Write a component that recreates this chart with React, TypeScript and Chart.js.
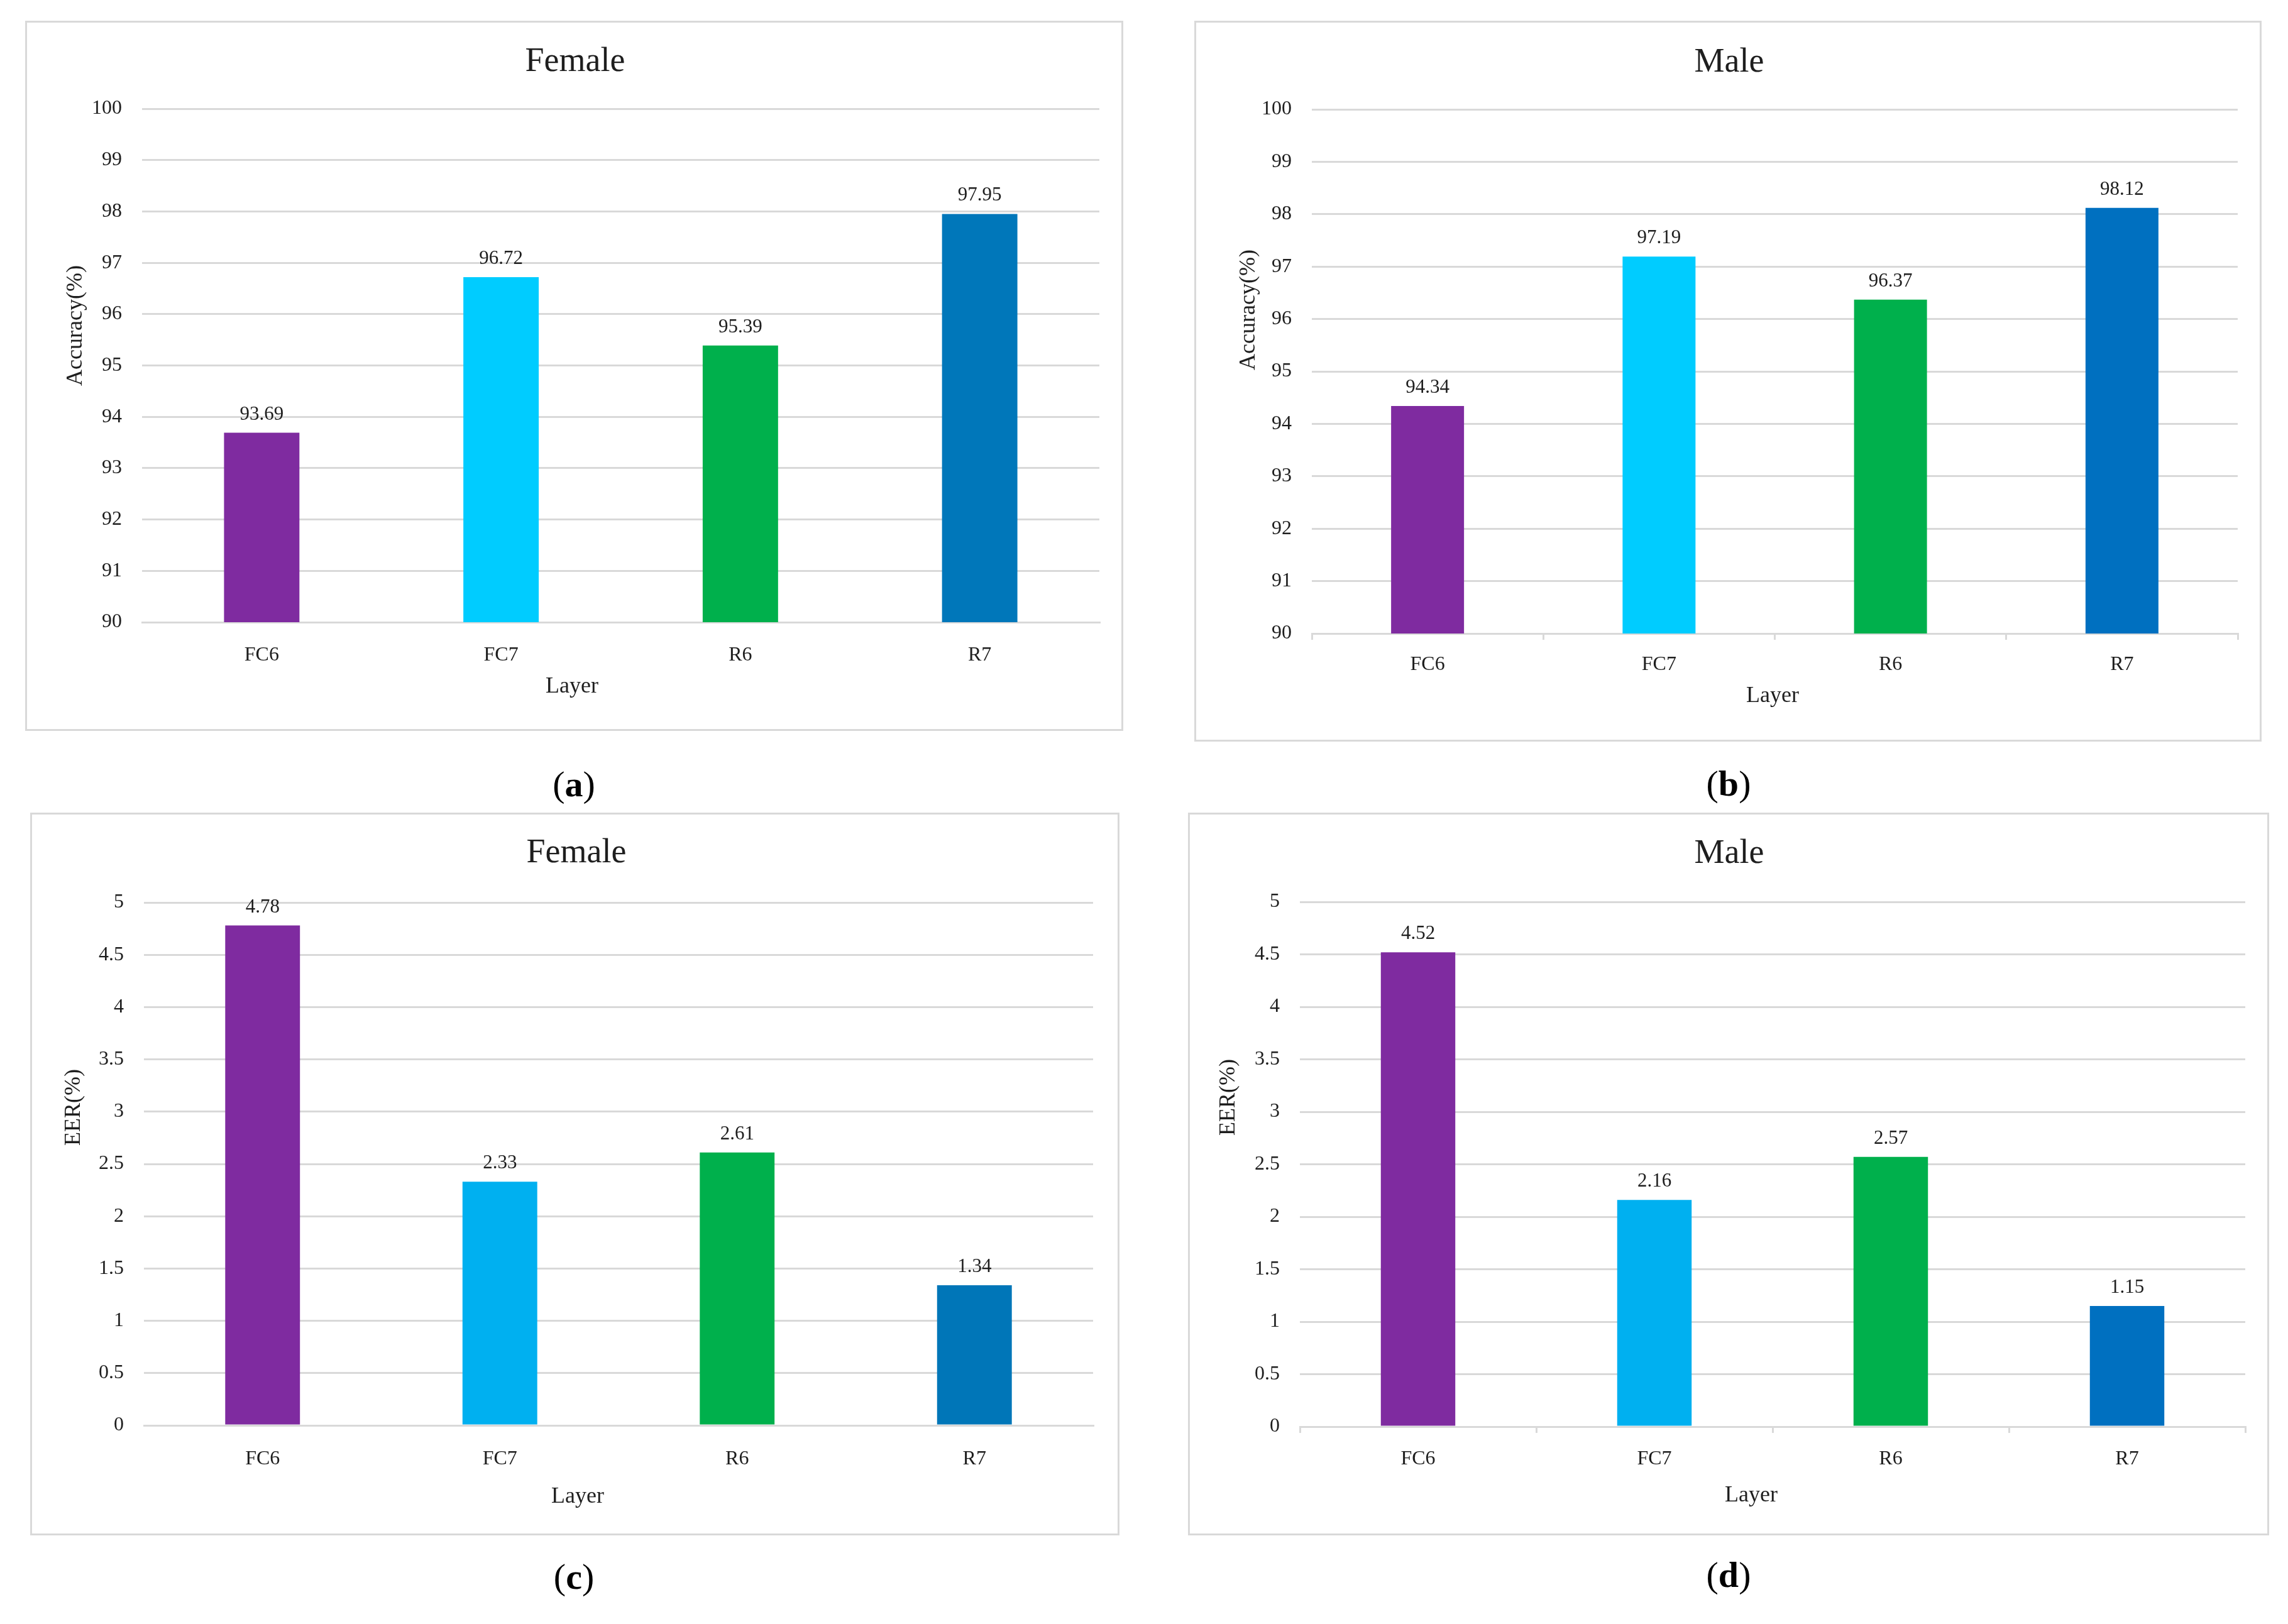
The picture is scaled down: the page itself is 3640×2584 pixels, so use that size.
import React, { useEffect, useRef } from 'react';
import { Chart, registerables } from 'chart.js';

Chart.register(...registerables);

// ---------------- DATA ----------------
const layers = ['FC6', 'FC7', 'R6', 'R7'];
const femaleAccuracy = [93.69, 96.72, 95.39, 97.95];
const maleAccuracy = [94.34, 97.19, 96.37, 98.12];
const femaleEER = [4.78, 2.33, 2.61, 1.34];
const maleEER = [4.52, 2.16, 2.57, 1.15];
const accuracyTicks = [90, 91, 92, 93, 94, 95, 96, 97, 98, 99, 100];
const eerTicks = [0, 0.5, 1, 1.5, 2, 2.5, 3, 3.5, 4, 4.5, 5];

const accColorsLeft = ['#7F2BA0', '#00CCFF', '#00B04C', '#0077BA'];
const accColorsRight = ['#7F2BA0', '#00CCFF', '#00B04C', '#0070C0'];
const eerColorsLeft = ['#7F2BA0', '#00B0F0', '#00B04C', '#0076B8'];
const eerColorsRight = ['#7F2BA0', '#00B0F0', '#00B04C', '#0070C0'];

// ---------------- STYLE ----------------
const FONT = '"Liberation Serif", "Times New Roman", serif';
const TEXT = '#1E1E1E';
const GRID = '#D9D9D9';
const BORDER = 3;

type Box = { x: number; y: number; w: number; h: number };
type Area = { l: number; r: number; t: number; b: number };
type PanelSpec = {
  title: string;
  yTitle: string;
  values: number[];
  colors: string[];
  ticks: number[];
  box: Box;
  area: Area;
  titleCx: number;
  titleCy: number;
  xTickCy: number;
  xTitleCx: number;
  xTitleCy: number;
  yTitleCx: number;
  yTitleCy: number;
  showXTicks: boolean;
  caption: string;
  captionCx: number;
  captionCy: number;
};

const panels: PanelSpec[] = [
  {
    title: 'Female', yTitle: 'Accuracy(%)', values: femaleAccuracy, colors: accColorsLeft, ticks: accuracyTicks,
    box: { x: 40, y: 33, w: 1747, h: 1130 }, area: { l: 226, r: 1749, t: 173, b: 990 },
    titleCx: 915, titleCy: 99, xTickCy: 1043, xTitleCx: 910, xTitleCy: 1093, yTitleCx: 121, yTitleCy: 518, showXTicks: false,
    caption: 'a', captionCx: 913, captionCy: 1248,
  },
  {
    title: 'Male', yTitle: 'Accuracy(%)', values: maleAccuracy, colors: accColorsRight, ticks: accuracyTicks,
    box: { x: 1900, y: 33, w: 1698, h: 1147 }, area: { l: 2087, r: 3560, t: 174, b: 1008 },
    titleCx: 2751, titleCy: 100, xTickCy: 1058, xTitleCx: 2820, xTitleCy: 1108, yTitleCx: 1987, yTitleCy: 493, showXTicks: true,
    caption: 'b', captionCx: 2750, captionCy: 1247,
  },
  {
    title: 'Female', yTitle: 'EER(%)', values: femaleEER, colors: eerColorsLeft, ticks: eerTicks,
    box: { x: 48, y: 1293, w: 1733, h: 1150 }, area: { l: 229, r: 1739, t: 1436, b: 2268 },
    titleCx: 917, titleCy: 1358, xTickCy: 2322, xTitleCx: 919, xTitleCy: 2382, yTitleCx: 118, yTitleCy: 1762, showXTicks: false,
    caption: 'c', captionCx: 913, captionCy: 2509,
  },
  {
    title: 'Male', yTitle: 'EER(%)', values: maleEER, colors: eerColorsRight, ticks: eerTicks,
    box: { x: 1890, y: 1293, w: 1720, h: 1150 }, area: { l: 2068, r: 3572, t: 1435, b: 2270 },
    titleCx: 2751, titleCy: 1359, xTickCy: 2322, xTitleCx: 2786, xTitleCy: 2380, yTitleCx: 1955, yTitleCy: 1746, showXTicks: true,
    caption: 'd', captionCx: 2750, captionCy: 2506,
  },
];

function Panel({ spec }: { spec: PanelSpec }) {
  const ref = useRef<HTMLCanvasElement | null>(null);
  const ox = spec.box.x + BORDER;
  const oy = spec.box.y + BORDER;
  const cw = spec.box.w - 2 * BORDER;
  const ch = spec.box.h - 2 * BORDER;

  useEffect(() => {
    if (!ref.current) return;
    const TITLE_SIZE = 54;
    const TICK_SIZE = 32;
    const AXT_SIZE = 36;
    const tickLen = spec.showXTicks ? 10 : 0;
    const xTickPad = spec.xTickCy - spec.area.b - tickLen - (TICK_SIZE * 1.2) / 2;
    const yAxisWidth = spec.area.l - ox;
    const xAxisHeight = ch - (spec.area.b - oy);
    const rightPad = cw - (spec.area.r - ox);
    const topPad = spec.area.t - oy;

    const drawText = (ctx: any, text: string, x: number, y: number, size: number, rot = 0) => {
      ctx.save();
      ctx.translate(x, y);
      if (rot) ctx.rotate(rot);
      ctx.font = `${size}px ${FONT}`;
      ctx.fillStyle = TEXT;
      ctx.textAlign = 'center';
      ctx.textBaseline = 'middle';
      ctx.fillText(text, 0, 0);
      ctx.restore();
    };

    const valueLabels = {
      id: 'valueLabels',
      afterDatasetsDraw(chart: any) {
        const ctx = chart.ctx;
        const meta = chart.getDatasetMeta(0);
        ctx.save();
        ctx.font = `31px ${FONT}`;
        ctx.fillStyle = TEXT;
        ctx.textAlign = 'center';
        ctx.textBaseline = 'alphabetic';
        meta.data.forEach((el: any, i: number) => {
          ctx.fillText(spec.values[i].toFixed(2), el.x, el.y - 21);
        });
        ctx.restore();
      },
    };
    const titles = {
      id: 'panelTitles',
      afterDraw(chart: any) {
        const ctx = chart.ctx;
        drawText(ctx, spec.title, spec.titleCx - ox, spec.titleCy - oy, TITLE_SIZE);
        drawText(ctx, 'Layer', spec.xTitleCx - ox, spec.xTitleCy - oy, AXT_SIZE);
        drawText(ctx, spec.yTitle, spec.yTitleCx - ox, spec.yTitleCy - oy, AXT_SIZE, -Math.PI / 2);
      },
    };

    const chart = new Chart(ref.current, {
      type: 'bar',
      data: {
        labels: layers,
        datasets: [
          {
            data: spec.values,
            backgroundColor: spec.colors,
            borderWidth: 0,
            barPercentage: 0.315,
            categoryPercentage: 1,
          },
        ],
      },
      options: {
        responsive: false,
        animation: false,
        devicePixelRatio: 1,
        layout: { padding: { left: 0, right: rightPad, top: topPad, bottom: 0 } },
        plugins: {
          legend: { display: false },
          tooltip: { enabled: false },
          title: { display: false },
        },
        scales: {
          x: {
            grid: {
              display: spec.showXTicks,
              drawOnChartArea: false,
              drawTicks: spec.showXTicks,
              tickLength: tickLen,
              color: GRID,
              lineWidth: 3,
              offset: true,
            },
            border: { display: true, color: GRID, width: 3 },
            ticks: {
              color: TEXT,
              font: { family: FONT, size: TICK_SIZE, lineHeight: 1.2 },
              padding: xTickPad,
              maxRotation: 0,
            },
            title: { display: false },
            afterFit: (s: any) => {
              s.height = xAxisHeight;
            },
          },
          y: {
            min: spec.ticks[0],
            max: spec.ticks[spec.ticks.length - 1],
            beginAtZero: false,
            grid: { color: GRID, lineWidth: 3, drawTicks: false },
            border: { display: false },
            ticks: {
              color: TEXT,
              font: { family: FONT, size: TICK_SIZE, lineHeight: 1.2 },
              padding: 32,
              callback: (v: any) => String(v),
            },
            afterBuildTicks: (s: any) => {
              s.ticks = spec.ticks.map((v) => ({ value: v }));
            },
            afterFit: (s: any) => {
              s.width = yAxisWidth;
            },
          },
        },
      },
      plugins: [valueLabels, titles],
    } as any);
    return () => chart.destroy();
  }, []);

  return (
    <>
      <div
        style={{
          position: 'absolute',
          left: spec.box.x,
          top: spec.box.y,
          width: spec.box.w,
          height: spec.box.h,
          boxSizing: 'border-box',
          border: `${BORDER}px solid ${GRID}`,
          background: '#fff',
        }}
      >
        <canvas ref={ref} width={cw} height={ch} style={{ display: 'block', width: cw, height: ch }} />
      </div>
      <div
        style={{
          position: 'absolute',
          left: spec.captionCx - 100,
          top: spec.captionCy - 36,
          width: 200,
          height: 72,
          lineHeight: '72px',
          textAlign: 'center',
          fontFamily: FONT,
          fontSize: 58,
          color: '#000',
        }}
      >
        (<b>{spec.caption}</b>)
      </div>
    </>
  );
}

export default function App() {
  return (
    <div
      style={{
        position: 'absolute',
        left: 0,
        top: 0,
        width: 3640,
        height: 2584,
        background: '#fff',
        overflow: 'hidden',
      }}
    >
      {panels.map((p, i) => (
        <Panel key={i} spec={p} />
      ))}
    </div>
  );
}
